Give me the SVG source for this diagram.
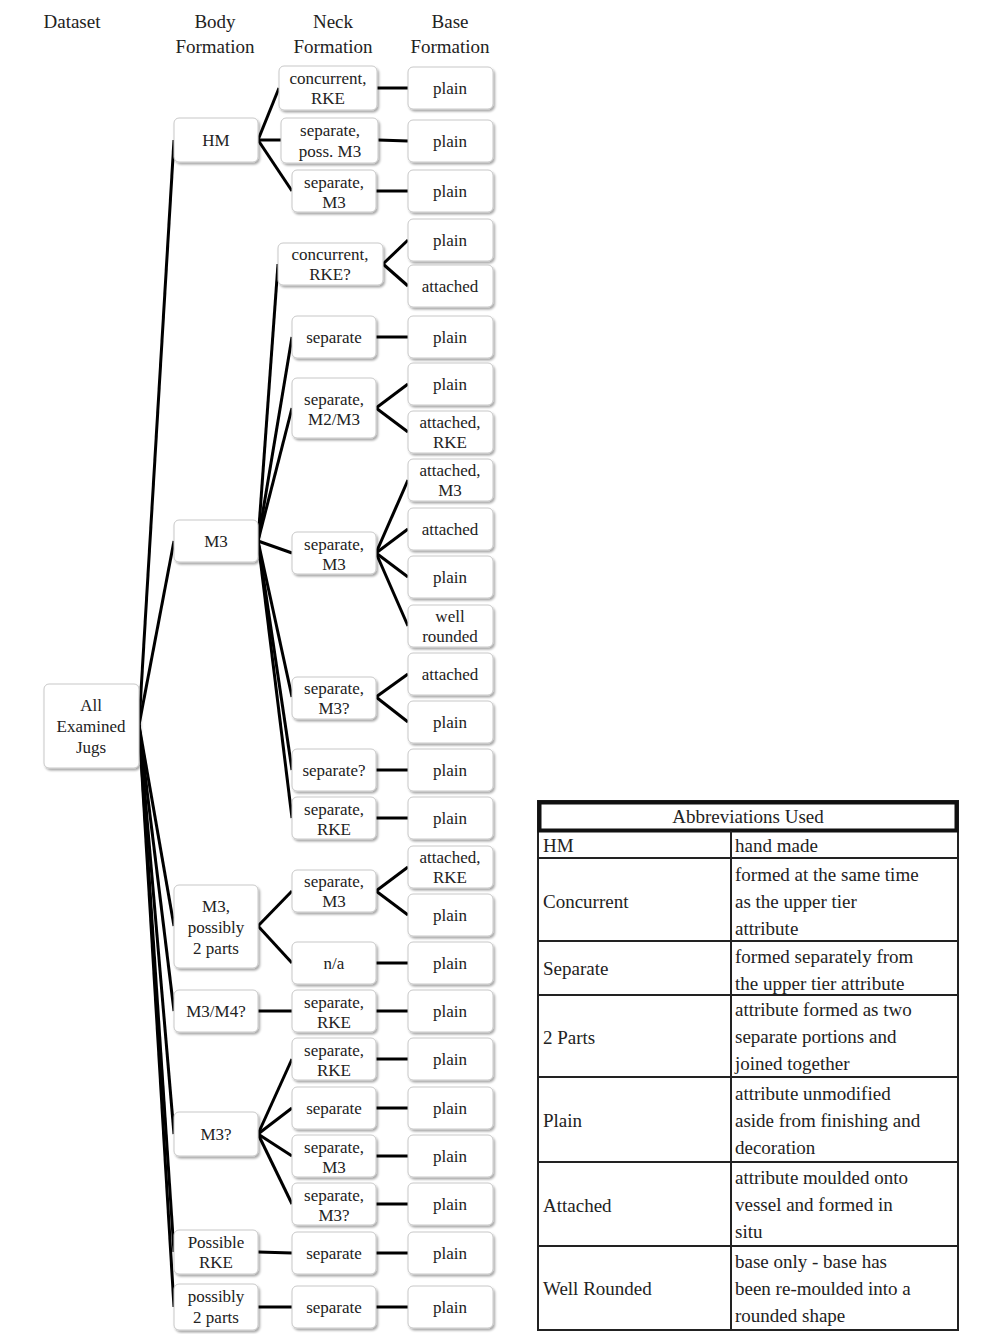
<svg xmlns="http://www.w3.org/2000/svg" width="987" height="1334" viewBox="0 0 987 1334" font-family="'Liberation Serif', 'DejaVu Serif', serif">
<defs>
<filter id="sh" x="-10%" y="-10%" width="125%" height="130%"><feDropShadow dx="1.5" dy="2" stdDeviation="1.2" flood-color="#000" flood-opacity="0.35"/></filter>
</defs>
<style>
text{font-family:'Liberation Serif','DejaVu Serif',serif;fill:#222}
.n rect{fill:#fff;stroke:#c8c8c8;stroke-width:1;filter:url(#sh)}
.n text{font-size:17px;text-anchor:middle}
.h{font-size:19px;text-anchor:middle}
.c line{stroke:#000;stroke-width:3}
.t{font-size:19px}
.tb line{stroke:#222;stroke-width:2}
</style>
<g id="headers">
<text class="h" x="72" y="28">Dataset</text>
<text class="h" x="215" y="28">Body</text><text class="h" x="215" y="53">Formation</text>
<text class="h" x="333" y="28">Neck</text><text class="h" x="333" y="53">Formation</text>
<text class="h" x="450" y="28">Base</text><text class="h" x="450" y="53">Formation</text>
</g>
<g id="connectors" class="c">
<line x1="139" y1="725" x2="174" y2="140"/>
<line x1="139" y1="725" x2="174" y2="541"/>
<line x1="139" y1="725" x2="174" y2="926"/>
<line x1="139" y1="725" x2="174" y2="1011"/>
<line x1="139" y1="725" x2="174" y2="1134"/>
<line x1="139" y1="725" x2="174" y2="1252"/>
<line x1="139" y1="725" x2="174" y2="1307"/>
<line x1="258" y1="140" x2="279" y2="88"/>
<line x1="258" y1="140" x2="281" y2="140"/>
<line x1="258" y1="140" x2="292" y2="191"/>
<line x1="258" y1="541" x2="278" y2="264"/>
<line x1="258" y1="541" x2="292" y2="337"/>
<line x1="258" y1="541" x2="292" y2="408"/>
<line x1="258" y1="541" x2="292" y2="553"/>
<line x1="258" y1="541" x2="292" y2="697"/>
<line x1="258" y1="541" x2="292" y2="770"/>
<line x1="258" y1="541" x2="292" y2="818"/>
<line x1="258" y1="926" x2="292" y2="891"/>
<line x1="258" y1="926" x2="292" y2="963"/>
<line x1="258" y1="1011" x2="292" y2="1011"/>
<line x1="258" y1="1134" x2="292" y2="1059"/>
<line x1="258" y1="1134" x2="292" y2="1108"/>
<line x1="258" y1="1134" x2="292" y2="1156"/>
<line x1="258" y1="1134" x2="292" y2="1204"/>
<line x1="258" y1="1252" x2="292" y2="1253"/>
<line x1="258" y1="1307" x2="292" y2="1307"/>
<line x1="377" y1="88" x2="408" y2="88"/>
<line x1="378" y1="140" x2="408" y2="141"/>
<line x1="376" y1="191" x2="408" y2="191"/>
<line x1="383" y1="264" x2="408" y2="240"/>
<line x1="383" y1="264" x2="408" y2="286"/>
<line x1="376" y1="337" x2="408" y2="337"/>
<line x1="376" y1="408" x2="408" y2="384"/>
<line x1="376" y1="408" x2="408" y2="432"/>
<line x1="376" y1="553" x2="408" y2="480"/>
<line x1="376" y1="553" x2="408" y2="529"/>
<line x1="376" y1="553" x2="408" y2="577"/>
<line x1="376" y1="553" x2="408" y2="626"/>
<line x1="376" y1="697" x2="408" y2="674"/>
<line x1="376" y1="697" x2="408" y2="722"/>
<line x1="376" y1="770" x2="408" y2="770"/>
<line x1="376" y1="818" x2="408" y2="818"/>
<line x1="376" y1="891" x2="408" y2="867"/>
<line x1="376" y1="891" x2="408" y2="915"/>
<line x1="376" y1="963" x2="408" y2="963"/>
<line x1="376" y1="1011" x2="408" y2="1011"/>
<line x1="376" y1="1059" x2="408" y2="1059"/>
<line x1="376" y1="1108" x2="408" y2="1108"/>
<line x1="376" y1="1156" x2="408" y2="1156"/>
<line x1="376" y1="1204" x2="408" y2="1204"/>
<line x1="376" y1="1253" x2="408" y2="1253"/>
<line x1="376" y1="1307" x2="408" y2="1307"/>
</g>
<g id="root" class="n"><rect x="44" y="684" width="95" height="84" rx="5"/><text x="91" y="711">All</text><text x="91" y="732">Examined</text><text x="91" y="753">Jugs</text></g>
<g id="b-hm" class="n"><rect x="174" y="118" width="84" height="44" rx="5"/><text x="216" y="146">HM</text></g>
<g id="b-m3" class="n"><rect x="174" y="520" width="84" height="42" rx="5"/><text x="216" y="547">M3</text></g>
<g id="b-m3p2" class="n"><rect x="174" y="885" width="84" height="83" rx="5"/><text x="216" y="912">M3,</text><text x="216" y="933">possibly</text><text x="216" y="954">2 parts</text></g>
<g id="b-m3m4" class="n"><rect x="174" y="990" width="84" height="42" rx="5"/><text x="216" y="1017">M3/M4?</text></g>
<g id="b-m3q" class="n"><rect x="174" y="1112" width="84" height="44" rx="5"/><text x="216" y="1140">M3?</text></g>
<g id="b-prke" class="n"><rect x="174" y="1230" width="84" height="44" rx="5"/><text x="216" y="1248">Possible</text><text x="216" y="1268">RKE</text></g>
<g id="b-p2" class="n"><rect x="174" y="1284" width="84" height="46" rx="5"/><text x="216" y="1302">possibly</text><text x="216" y="1323">2 parts</text></g>
<g id="n1" class="n"><rect x="279" y="66" width="98" height="44" rx="5"/><text x="328" y="84">concurrent,</text><text x="328" y="104">RKE</text></g>
<g id="n2" class="n"><rect x="281" y="118" width="97" height="45" rx="5"/><text x="330" y="136">separate,</text><text x="330" y="157">poss. M3</text></g>
<g id="n3" class="n"><rect x="292" y="170" width="84" height="42" rx="5"/><text x="334" y="188">separate,</text><text x="334" y="208">M3</text></g>
<g id="n4" class="n"><rect x="278" y="243" width="105" height="42" rx="5"/><text x="330" y="260">concurrent,</text><text x="330" y="280">RKE?</text></g>
<g id="n5" class="n"><rect x="292" y="316" width="84" height="42" rx="5"/><text x="334" y="343">separate</text></g>
<g id="n6" class="n"><rect x="292" y="378" width="84" height="60" rx="5"/><text x="334" y="405">separate,</text><text x="334" y="425">M2/M3</text></g>
<g id="n7" class="n"><rect x="292" y="532" width="84" height="42" rx="5"/><text x="334" y="550">separate,</text><text x="334" y="570">M3</text></g>
<g id="n8" class="n"><rect x="292" y="677" width="84" height="42" rx="5"/><text x="334" y="694">separate,</text><text x="334" y="714">M3?</text></g>
<g id="n9" class="n"><rect x="292" y="749" width="84" height="42" rx="5"/><text x="334" y="776">separate?</text></g>
<g id="n10" class="n"><rect x="292" y="797" width="84" height="42" rx="5"/><text x="334" y="815">separate,</text><text x="334" y="835">RKE</text></g>
<g id="n11" class="n"><rect x="292" y="870" width="84" height="42" rx="5"/><text x="334" y="887">separate,</text><text x="334" y="907">M3</text></g>
<g id="n12" class="n"><rect x="292" y="942" width="84" height="42" rx="5"/><text x="334" y="969">n/a</text></g>
<g id="n13" class="n"><rect x="292" y="990" width="84" height="42" rx="5"/><text x="334" y="1008">separate,</text><text x="334" y="1028">RKE</text></g>
<g id="n14" class="n"><rect x="292" y="1038" width="84" height="42" rx="5"/><text x="334" y="1056">separate,</text><text x="334" y="1076">RKE</text></g>
<g id="n15" class="n"><rect x="292" y="1087" width="84" height="42" rx="5"/><text x="334" y="1114">separate</text></g>
<g id="n16" class="n"><rect x="292" y="1135" width="84" height="42" rx="5"/><text x="334" y="1153">separate,</text><text x="334" y="1173">M3</text></g>
<g id="n17" class="n"><rect x="292" y="1183" width="84" height="42" rx="5"/><text x="334" y="1201">separate,</text><text x="334" y="1221">M3?</text></g>
<g id="n18" class="n"><rect x="292" y="1232" width="84" height="42" rx="5"/><text x="334" y="1259">separate</text></g>
<g id="n19" class="n"><rect x="292" y="1286" width="84" height="42" rx="5"/><text x="334" y="1313">separate</text></g>
<g id="a1" class="n"><rect x="408" y="67" width="85" height="42" rx="5"/><text x="450" y="94">plain</text></g>
<g id="a2" class="n"><rect x="408" y="120" width="85" height="42" rx="5"/><text x="450" y="147">plain</text></g>
<g id="a3" class="n"><rect x="408" y="170" width="85" height="42" rx="5"/><text x="450" y="197">plain</text></g>
<g id="a4" class="n"><rect x="408" y="219" width="85" height="42" rx="5"/><text x="450" y="246">plain</text></g>
<g id="a5" class="n"><rect x="408" y="265" width="85" height="42" rx="5"/><text x="450" y="292">attached</text></g>
<g id="a6" class="n"><rect x="408" y="316" width="85" height="42" rx="5"/><text x="450" y="343">plain</text></g>
<g id="a7" class="n"><rect x="408" y="363" width="85" height="42" rx="5"/><text x="450" y="390">plain</text></g>
<g id="a8" class="n"><rect x="408" y="411" width="85" height="42" rx="5"/><text x="450" y="428">attached,</text><text x="450" y="448">RKE</text></g>
<g id="a9" class="n"><rect x="408" y="459" width="85" height="42" rx="5"/><text x="450" y="476">attached,</text><text x="450" y="496">M3</text></g>
<g id="a10" class="n"><rect x="408" y="508" width="85" height="42" rx="5"/><text x="450" y="535">attached</text></g>
<g id="a11" class="n"><rect x="408" y="556" width="85" height="42" rx="5"/><text x="450" y="583">plain</text></g>
<g id="a12" class="n"><rect x="408" y="605" width="85" height="42" rx="5"/><text x="450" y="622">well</text><text x="450" y="642">rounded</text></g>
<g id="a13" class="n"><rect x="408" y="653" width="85" height="42" rx="5"/><text x="450" y="680">attached</text></g>
<g id="a14" class="n"><rect x="408" y="701" width="85" height="42" rx="5"/><text x="450" y="728">plain</text></g>
<g id="a15" class="n"><rect x="408" y="749" width="85" height="42" rx="5"/><text x="450" y="776">plain</text></g>
<g id="a16" class="n"><rect x="408" y="797" width="85" height="42" rx="5"/><text x="450" y="824">plain</text></g>
<g id="a17" class="n"><rect x="408" y="846" width="85" height="42" rx="5"/><text x="450" y="863">attached,</text><text x="450" y="883">RKE</text></g>
<g id="a18" class="n"><rect x="408" y="894" width="85" height="42" rx="5"/><text x="450" y="921">plain</text></g>
<g id="a19" class="n"><rect x="408" y="942" width="85" height="42" rx="5"/><text x="450" y="969">plain</text></g>
<g id="a20" class="n"><rect x="408" y="990" width="85" height="42" rx="5"/><text x="450" y="1017">plain</text></g>
<g id="a21" class="n"><rect x="408" y="1038" width="85" height="42" rx="5"/><text x="450" y="1065">plain</text></g>
<g id="a22" class="n"><rect x="408" y="1087" width="85" height="42" rx="5"/><text x="450" y="1114">plain</text></g>
<g id="a23" class="n"><rect x="408" y="1135" width="85" height="42" rx="5"/><text x="450" y="1162">plain</text></g>
<g id="a24" class="n"><rect x="408" y="1183" width="85" height="42" rx="5"/><text x="450" y="1210">plain</text></g>
<g id="a25" class="n"><rect x="408" y="1232" width="85" height="42" rx="5"/><text x="450" y="1259">plain</text></g>
<g id="a26" class="n"><rect x="408" y="1286" width="85" height="42" rx="5"/><text x="450" y="1313">plain</text></g>
<g id="table">
<rect x="538" y="801" width="420" height="529" fill="#fff" stroke="#222" stroke-width="2"/>
<rect x="539.5" y="802.5" width="417" height="28" fill="none" stroke="#111" stroke-width="4"/>
<g class="tb">
<line x1="731" y1="831" x2="731" y2="1330"/>
<line x1="538" y1="858" x2="958" y2="858"/>
<line x1="538" y1="941" x2="958" y2="941"/>
<line x1="538" y1="995" x2="958" y2="995"/>
<line x1="538" y1="1077" x2="958" y2="1077"/>
<line x1="538" y1="1162" x2="958" y2="1162"/>
<line x1="538" y1="1246" x2="958" y2="1246"/>
</g>
<text class="t" x="748" y="823" text-anchor="middle">Abbreviations Used</text>
<text class="t" x="543" y="852">HM</text><text class="t" x="735" y="852">hand made</text>
<text class="t" x="543" y="908">Concurrent</text>
<text class="t" x="735" y="881">formed at the same time</text><text class="t" x="735" y="908">as the upper tier</text><text class="t" x="735" y="935">attribute</text>
<text class="t" x="543" y="975">Separate</text>
<text class="t" x="735" y="963">formed separately from</text><text class="t" x="735" y="990">the upper tier attribute</text>
<text class="t" x="543" y="1044">2 Parts</text>
<text class="t" x="735" y="1016">attribute formed as two</text><text class="t" x="735" y="1043">separate portions and</text><text class="t" x="735" y="1070">joined together</text>
<text class="t" x="543" y="1127">Plain</text>
<text class="t" x="735" y="1100">attribute unmodified</text><text class="t" x="735" y="1127">aside from finishing and</text><text class="t" x="735" y="1154">decoration</text>
<text class="t" x="543" y="1212">Attached</text>
<text class="t" x="735" y="1184">attribute moulded onto</text><text class="t" x="735" y="1211">vessel and formed in</text><text class="t" x="735" y="1238">situ</text>
<text class="t" x="543" y="1295">Well Rounded</text>
<text class="t" x="735" y="1268">base only - base has</text><text class="t" x="735" y="1295">been re-moulded into a</text><text class="t" x="735" y="1322">rounded shape</text>
</g>
</svg>
